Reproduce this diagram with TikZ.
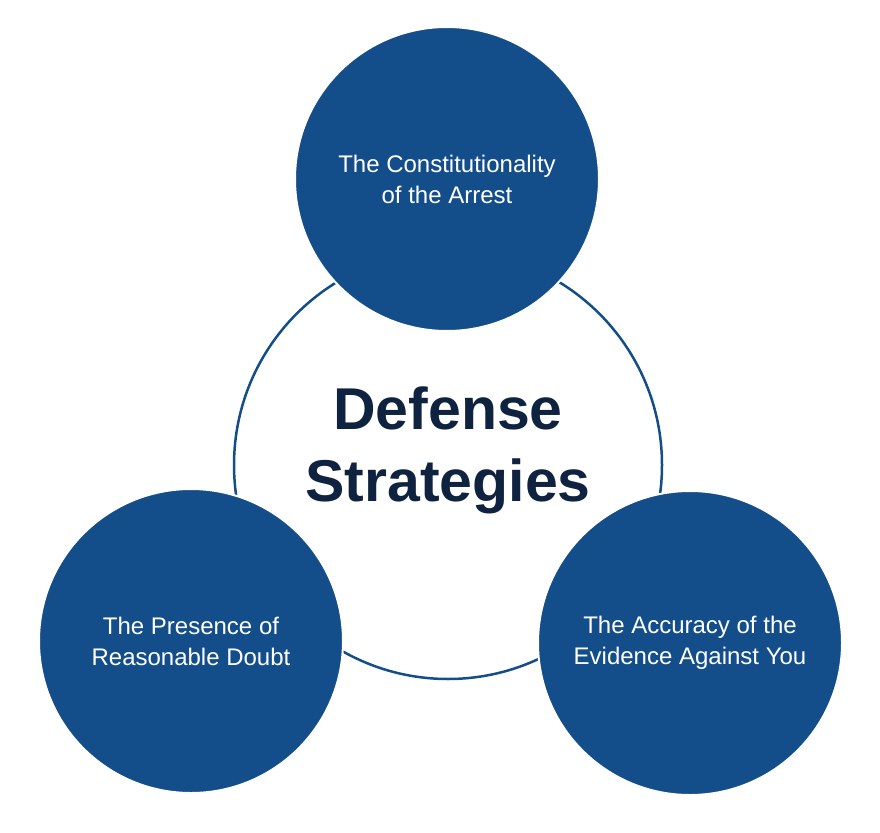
\documentclass[tikz,border=0pt]{standalone}
\usepackage{fontspec}
\setmainfont{Liberation Sans}
\definecolor{cblue}{HTML}{134E8A}
\definecolor{navy}{HTML}{0F2340}
\begin{document}
\begin{tikzpicture}[x=1pt,y=-1pt,
  sat/.style={circle,fill=cblue,draw=white,line width=2pt,minimum size=304pt,inner sep=0pt,text=white,align=center,font=\fontsize{24}{31}\selectfont},
  hub/.style={circle,draw=cblue,line width=2.5pt,fill=white,minimum size=428pt,inner sep=0pt},
  hubtext/.style={align=center,text=navy,font=\fontsize{59}{72}\selectfont\bfseries}]
\useasboundingbox (0,0) rectangle (880,832);
\node[hub] (c) at (448,465) {};
\node[hubtext] (ct) at (448,450) {Defense\\Strategies};
\node[sat] (t) at (447,179) {The Constitutionality\\of the Arrest};
\node[sat] (l) at (191,641) {The Presence of\\Reasonable Doubt};
\node[sat] (r) at (690,643) {The Accuracy of the\\Evidence Against You};
\end{tikzpicture}
\end{document}
